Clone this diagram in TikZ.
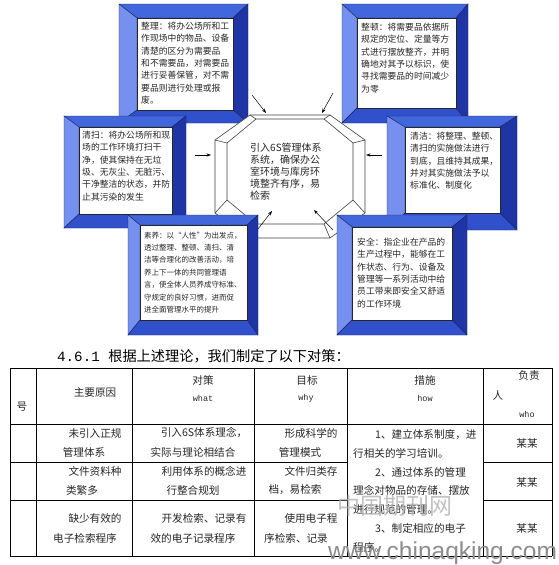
\documentclass[tikz,border=0pt]{standalone}
\usepackage{fontspec}
\setmainfont{Liberation Serif}
\newfontfamily\cjk{Noto Sans CJK SC}
\newfontfamily\monof{Liberation Mono}
\newfontfamily\wmfont{Liberation Sans}
\XeTeXlinebreaklocale "zh"
\XeTeXlinebreakskip=0pt plus 2pt
\usetikzlibrary{arrows.meta}

\definecolor{bvtop}{HTML}{4266DC}
\definecolor{bvleft}{HTML}{7590EE}
\definecolor{bvright}{HTML}{1F35A5}
\definecolor{bvbot}{HTML}{3050CC}
\definecolor{bvline}{HTML}{1A2560}

% outer x1 y1 x2 y2, inner x1 y1 x2 y2
\newcommand\bevelbox[8]{%
  \filldraw[bvtop,draw=bvline,line width=0.4pt] (#1,#2) -- (#3,#2) -- (#7,#6) -- (#5,#6) -- cycle;
  \filldraw[bvleft,draw=bvline,line width=0.4pt] (#1,#2) -- (#5,#6) -- (#5,#8) -- (#1,#4) -- cycle;
  \filldraw[bvright,draw=bvline,line width=0.4pt] (#3,#2) -- (#3,#4) -- (#7,#8) -- (#7,#6) -- cycle;
  \filldraw[bvbot,draw=bvline,line width=0.4pt] (#1,#4) -- (#3,#4) -- (#7,#8) -- (#5,#8) -- cycle;
  \filldraw[fill=white,draw=black!85,line width=0.5pt] (#5,#6) rectangle (#7,#8);
}
\newcommand\jl[2]{\makebox[#1][s]{#2}}

\tikzset{
  boxtxt/.style={font=\cjk\fontsize{8.8}{12.3}\selectfont, align=left, inner sep=0pt, anchor=north west, text=black!85},
  smalltxt/.style={font=\cjk\fontsize{7.5}{12.4}\selectfont, align=left, inner sep=0pt, anchor=north west, text=black!85},
  coretxt/.style={font=\cjk\fontsize{10}{12}\selectfont, align=left, inner sep=0pt, anchor=north west, text=black!85},
  cell/.style={font=\cjk\fontsize{10.6}{12}\selectfont, inner sep=0pt, text=black!85},
  cellw/.style={cell, anchor=west},
  eng/.style={font=\monof\fontsize{8.5}{10}\selectfont, inner sep=0pt, text=black!85},
  arr/.style={-{Stealth[length=4.5pt,width=3.2pt]}, line width=0.5pt, black},
  octo/.style={draw=black!75, line width=0.6pt},
  gridline/.style={line width=0.7pt, black},
}

\begin{document}
\begin{tikzpicture}[x=1pt,y=-1pt]
\useasboundingbox (0,0) rectangle (558,565);
\fill[white] (0,0) rectangle (558,565);

% ---- upper boxes
\bevelbox{119}{4}{248}{123}{137}{18}{233}{110}
\node[boxtxt] (zhengli) at (141,22) {\jl{90pt}{整理：将办公场所和工}\\\jl{90pt}{作现场中的物品、设备}\\\jl{90pt}{清楚的区分为需要品}\\\jl{90pt}{和不需要品，对需要品}\\\jl{90pt}{进行妥善保管，对不需}\\\jl{90pt}{要品则进行处理或报}\\废。};

\bevelbox{342}{4}{468}{123}{357}{18}{456}{108}
\node[boxtxt] (zhengdun) at (361,23) {\jl{90pt}{整顿：将需要品依据所}\\\jl{90pt}{规定的定位、定量等方}\\\jl{90pt}{式进行摆放整齐，并明}\\\jl{90pt}{确地对其予以标识，使}\\\jl{90pt}{寻找需要品的时间减少}\\为零};

% ---- middle boxes
\bevelbox{64}{116}{186}{228}{79}{127}{172}{214}
\node[boxtxt] (qingsao) at (82,131) {\jl{88pt}{清扫：将办公场所和现}\\\jl{88pt}{场的工作环境打扫干}\\\jl{88pt}{净，使其保持在无垃}\\\jl{88pt}{圾、无灰尘、无脏污、}\\\jl{88pt}{干净整洁的状态，并防}\\止其污染的发生};

\bevelbox{387}{116}{517}{230}{405}{127}{500}{213}
\node[boxtxt] (qingjie) at (410,132) {\jl{86pt}{清洁：将整理、整顿、}\\\jl{86pt}{清扫的实施做法进行}\\\jl{86pt}{到底，且维持其成果，}\\\jl{86pt}{并对其实施做法予以}\\标准化、制度化};

% ---- central octagon
\filldraw[octo,fill=white] (250,115) -- (330,115) -- (365,140) -- (365,213) -- (330,238) -- (250,238) -- (215,213) -- (215,140) -- cycle;
\draw[octo] (256,119) -- (324,119) -- (353,143) -- (353,200) -- (324,224) -- (256,224) -- (227,200) -- (227,143) -- cycle;
\draw[octo] (250,115) -- (256,119) (330,115) -- (324,119) (365,140) -- (353,143) (365,213) -- (353,200)
  (330,238) -- (324,224) (250,238) -- (256,224) (215,213) -- (227,200) (215,140) -- (227,143);
\node[coretxt] (core) at (250,142.5) {引入6S管理体系\\系统，确保办公\\室环境与库房环\\境整齐有序，易\\检索};

% ---- lower boxes
\bevelbox{128}{215}{258}{335}{140}{225}{247}{320}
\node[smalltxt] (suyang) at (144,231.5) {\jl{96pt}{素养：以“人性”为出发点，}\\\jl{96pt}{透过整理、整顿、清扫、清}\\\jl{96pt}{洁等合理化的改善活动，培}\\\jl{96pt}{养上下一体的共同管理语}\\\jl{96pt}{言，使全体人员养成守标准、}\\\jl{96pt}{守规定的良好习惯，进而促}\\进全面管理水平的提升};

\bevelbox{337}{215}{467}{335}{352}{227}{452}{320}
\node[boxtxt] (anquan) at (357,238) {\jl{88pt}{安全：指企业在产品的}\\\jl{88pt}{生产过程中，能够在工}\\\jl{88pt}{作状态、行为、设备及}\\\jl{88pt}{管理等一系列活动中给}\\\jl{88pt}{员工带来即安全又舒适}\\的工作环境};

% ---- arrows
\coordinate (s1) at (252,95);  \coordinate (e1) at (266,113);
\coordinate (s2) at (333,93);  \coordinate (e2) at (322,113);
\coordinate (s3) at (195,155); \coordinate (e3) at (211,155);
\coordinate (s4) at (382,155); \coordinate (e4) at (366,155);
\coordinate (s5) at (258,229); \coordinate (e5) at (272,211);
\coordinate (s6) at (333,230); \coordinate (e6) at (314,210);
\foreach \i in {1,...,6} \draw[arr] (s\i) -- (e\i);

% ---- title
\node[font=\cjk\fontsize{14.2}{16}\selectfont, anchor=west, inner sep=0pt] (title) at (57,356) {{\monof 4.6.1 }根据上述理论，我们制定了以下对策：};

% ---- table grid
\draw[gridline] (10,368) -- (552,368);
\draw[gridline] (10,424) -- (552,424);
\draw[gridline] (10,462) -- (347,462) (483,462) -- (552,462);
\draw[gridline] (10,500) -- (347,500) (483,500) -- (552,500);
\draw[gridline] (10,556) -- (552,556);
\foreach \x in {10,36,132,254,347,483,552} \draw[gridline] (\x,368) -- (\x,556);

% header
\node[cell] (h1) at (22,407) {号};
\node[cell] (h2) at (95,392) {主要原因};
\node[cell] (h3) at (203,380) {对策};
\node[eng]  (h3e) at (203,398) {what};
\node[cell] (h4) at (307,380) {目标};
\node[eng]  (h4e) at (306,398) {why};
\node[cell] (h5) at (425,380) {措施};
\node[eng]  (h5e) at (425,398) {how};
\node[cell] (h6) at (529,375) {负责};
\node[cell] (h6b) at (498,395) {人};
\node[eng]  (h6e) at (527,414) {who};

% row 1
\node[cell] (r1a) at (95,433) {未引入正规};
\node[cell] (r1b) at (84,452) {管理体系};
\node[cell] (r1c) at (204,433) {引入6S体系理念，};
\node[cell] (r1d) at (193,452) {实际与理论相结合};
\node[cell] (r1e) at (311,433) {形成科学的};
\node[cell] (r1f) at (300,452) {管理模式};
\node[cell] (r1g) at (527,443) {某某};
% row 2
\node[cell] (r2a) at (95,471) {文件资料种};
\node[cell] (r2b) at (82,490) {类繁多};
\node[cell] (r2c) at (204,471) {利用体系的概念进};
\node[cell] (r2d) at (193,490) {行整合规划};
\node[cell] (r2e) at (311,471) {文件归类存};
\node[cell] (r2f) at (295,490) {档，易检索};
\node[cell] (r2g) at (527,482) {某某};
% row 3
\node[cell] (r3a) at (95,518) {缺少有效的};
\node[cell] (r3b) at (85,538) {电子检索程序};
\node[cell] (r3c) at (204,518) {开发检索、记录有};
\node[cell] (r3d) at (193,538) {效的电子记录程序};
\node[cell] (r3e) at (311,518) {使用电子程};
\node[cell] (r3f) at (296,538) {序检索、记录};
\node[cell] (r3g) at (527,528) {某某};

% measures column
\node[cellw] (m1) at (375,435) {\jl{102pt}{1、建立体系制度，进}};
\node[cellw] (m2) at (353,453) {行相关的学习培训。};
\node[cellw] (m3) at (375,472) {\jl{102pt}{2、通过体系的管理}};
\node[cellw] (m4) at (353,490) {\jl{124pt}{理念对物品的存储、摆放}};
\node[cellw] (m5) at (353,509) {进行规范的管理。};
\node[cellw] (m6) at (375,528) {\jl{102pt}{3、制定相应的电子}};
\node[cellw] (m7) at (353,547) {程序。};

% watermark
\node[font=\cjk\fontsize{23}{25}\selectfont, text=black!30, opacity=0.8, inner sep=0pt] (wm1) at (395,506) {中国期刊网};
\node[font=\wmfont\fontsize{24.5}{26}\selectfont, text=black!45, anchor=base west, inner sep=0pt] (wm2) at (328,559) {www.chinaqking.com};
\end{tikzpicture}
\end{document}
